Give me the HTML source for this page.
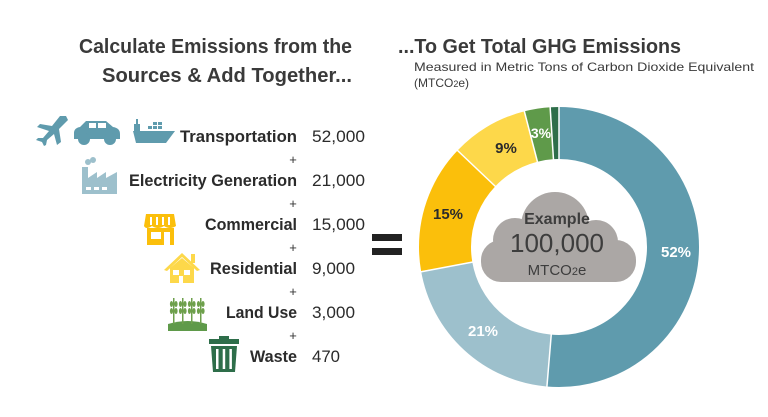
<!DOCTYPE html>
<html><head><meta charset="utf-8"><style>
html,body{margin:0;padding:0;background:#fff}
svg{display:block}
text{font-family:"Liberation Sans",sans-serif}
</style></head><body>
<svg width="768" height="417" viewBox="0 0 768 417" xmlns="http://www.w3.org/2000/svg">
<rect width="768" height="417" fill="#fff"/>
<g fill="#3a3a3a" font-weight="bold" font-size="20">
<text x="79" y="53" textLength="273" lengthAdjust="spacingAndGlyphs">Calculate Emissions from the</text>
<text x="102" y="82" textLength="250" lengthAdjust="spacingAndGlyphs">Sources &amp; Add Together...</text>
<text x="398" y="53" textLength="283" lengthAdjust="spacingAndGlyphs">...To Get Total GHG Emissions</text>
</g>
<g fill="#3a3a3a" font-size="12">
<text x="414" y="71" textLength="340" lengthAdjust="spacingAndGlyphs">Measured in Metric Tons of Carbon Dioxide Equivalent</text>
<text x="414" y="87">(MTCO<tspan font-size="9">2</tspan>e)</text>
</g>
<g fill="#2b2b2b" font-weight="bold" font-size="17" text-anchor="end">
<text x="297" y="142" textLength="117" lengthAdjust="spacingAndGlyphs">Transportation</text>
<text x="297" y="186" textLength="168" lengthAdjust="spacingAndGlyphs">Electricity Generation</text>
<text x="297" y="230" textLength="92" lengthAdjust="spacingAndGlyphs">Commercial</text>
<text x="297" y="274" textLength="87" lengthAdjust="spacingAndGlyphs">Residential</text>
<text x="297" y="318" textLength="71" lengthAdjust="spacingAndGlyphs">Land Use</text>
<text x="297" y="362" textLength="47" lengthAdjust="spacingAndGlyphs">Waste</text>
</g>
<g fill="#2b2b2b" font-size="17">
<text x="312" y="142" textLength="53" lengthAdjust="spacingAndGlyphs">52,000</text>
<text x="312" y="186" textLength="53" lengthAdjust="spacingAndGlyphs">21,000</text>
<text x="312" y="230" textLength="53" lengthAdjust="spacingAndGlyphs">15,000</text>
<text x="312" y="274" textLength="43" lengthAdjust="spacingAndGlyphs">9,000</text>
<text x="312" y="318" textLength="43" lengthAdjust="spacingAndGlyphs">3,000</text>
<text x="312" y="362" textLength="28" lengthAdjust="spacingAndGlyphs">470</text>
</g>
<g fill="#333" font-size="13" text-anchor="middle">
<text x="293" y="164">+</text><text x="293" y="208">+</text><text x="293" y="252">+</text><text x="293" y="296">+</text><text x="293" y="340">+</text>
</g>
<rect x="372" y="234" width="30" height="7" fill="#222"/>
<rect x="372" y="248" width="30" height="7" fill="#222"/>
<g fill="#5f9bad">
<path d="M66 116 L60 116 L52 126 L40 124 L37 127 L49 131 L43 138 L38 138 L36 140 L42 142 L44 146 L46 145 L47 140 L54 134 L57 145 L61 142 L59 129 L68 120 Z"/>
<path d="M74 133 Q74 128 80 127 L86 121 L106 121 L113 127 Q120 128 120 134 L120 139 L74 139 Z"/>
<circle cx="84" cy="139" r="6"/><circle cx="110" cy="139" r="6"/>
<rect x="89" y="123" width="7" height="5" fill="#fff"/><rect x="98" y="123" width="8" height="5" fill="#fff"/>
<rect x="136" y="119" width="2" height="6"/><rect x="134" y="124" width="6" height="7"/>
<rect x="148" y="126" width="4" height="3"/><rect x="153" y="126" width="4" height="3"/><rect x="153" y="122" width="4" height="3"/><rect x="158" y="126" width="4" height="3"/><rect x="158" y="122" width="4" height="3"/>
<path d="M133 131 L175 131 L166 143 L136 143 Z"/>
</g>
<g fill="#9dc0cc">
<path d="M82 167 L88 167 L88 178 L97 172 L97 178 L106 172 L106 178 L117 172 L117 194 L82 194 Z"/>
<circle cx="88" cy="162" r="3"/><circle cx="93" cy="160" r="3"/>
<g fill="#fff"><rect x="86" y="187" width="5" height="3"/><rect x="94" y="187" width="5" height="3"/><rect x="102" y="187" width="5" height="3"/></g>
</g>
<g fill="#fbbf0b">
<path d="M146 214 L174 214 L176 226 Q170 230 164 226 Q158 230 152 226 Q146 230 144 226 Z"/>
<rect x="147" y="228" width="27" height="17"/>
<rect x="151" y="232" width="10" height="7" fill="#fff"/>
<rect x="164" y="232" width="6" height="13" fill="#fff"/>
<g fill="#fff"><rect x="150" y="217" width="2" height="8"/><rect x="156" y="217" width="2" height="8"/><rect x="162" y="217" width="2" height="8"/><rect x="168" y="217" width="2" height="8"/></g>
</g>
<g fill="#fdd84a">
<path d="M164 270 L182 253 L200 270 L197 271 L182 257 L167 271 Z"/>
<rect x="191" y="254" width="4" height="9"/>
<path d="M170 268 L182 258 L194 268 L194 283 L170 283 Z"/>
<rect x="173" y="270" width="6" height="5" fill="#fff"/><rect x="184" y="270" width="6" height="5" fill="#fff"/><rect x="179" y="276" width="4" height="7" fill="#fff"/>
</g>
<g fill="#6ea04c">
<path d="M168 324 Q188 318 207 324 L207 331 L168 331 Z" fill="#5f9a4a"/>
<g><rect x="173" y="298" width="1.5" height="26"/><ellipse cx="171.5" cy="304" rx="1.6" ry="3"/><ellipse cx="176" cy="304" rx="1.6" ry="3"/><ellipse cx="171.5" cy="311" rx="1.6" ry="3"/><ellipse cx="176" cy="311" rx="1.6" ry="3"/></g>
<g><rect x="182" y="298" width="1.5" height="26"/><ellipse cx="180.5" cy="304" rx="1.6" ry="3"/><ellipse cx="185" cy="304" rx="1.6" ry="3"/><ellipse cx="180.5" cy="311" rx="1.6" ry="3"/><ellipse cx="185" cy="311" rx="1.6" ry="3"/></g>
<g><rect x="191" y="298" width="1.5" height="26"/><ellipse cx="189.5" cy="304" rx="1.6" ry="3"/><ellipse cx="194" cy="304" rx="1.6" ry="3"/><ellipse cx="189.5" cy="311" rx="1.6" ry="3"/><ellipse cx="194" cy="311" rx="1.6" ry="3"/></g>
<g><rect x="200" y="298" width="1.5" height="26"/><ellipse cx="198.5" cy="304" rx="1.6" ry="3"/><ellipse cx="203" cy="304" rx="1.6" ry="3"/><ellipse cx="198.5" cy="311" rx="1.6" ry="3"/><ellipse cx="203" cy="311" rx="1.6" ry="3"/></g>
</g>
<g fill="#2e6e4a">
<rect x="219" y="336" width="10" height="3"/>
<rect x="209" y="339" width="30" height="5"/>
<path d="M211 346 L237 346 L235 372 L213 372 Z"/>
<g fill="#fff"><rect x="216" y="349" width="2.5" height="20"/><rect x="222.7" y="349" width="2.5" height="20"/><rect x="229.4" y="349" width="2.5" height="20"/></g>
</g>
<g transform="rotate(-90 559 247)" fill="none" stroke-width="52">
<circle cx="559" cy="247" r="114" stroke="#5f9bad" stroke-dasharray="368.2 716.3" stroke-dashoffset="0"/>
<circle cx="559" cy="247" r="114" stroke="#9dc0cc" stroke-dasharray="149 716.3" stroke-dashoffset="-368.2"/>
<circle cx="559" cy="247" r="114" stroke="#fbbf0b" stroke-dasharray="106.7 716.3" stroke-dashoffset="-517.2"/>
<circle cx="559" cy="247" r="114" stroke="#fdd84a" stroke-dasharray="63.8 716.3" stroke-dashoffset="-623.9"/>
<circle cx="559" cy="247" r="114" stroke="#5f9a4a" stroke-dasharray="21.5 716.3" stroke-dashoffset="-687.7"/>
<circle cx="559" cy="247" r="114" stroke="#2e6e4a" stroke-dasharray="7.1 716.3" stroke-dashoffset="-709.2"/>
</g>
<g stroke="#fff" stroke-width="1.5">
<line x1="559" y1="105" x2="559" y2="161"/>
<line x1="546.8" y1="388" x2="551.3" y2="334"/>
<line x1="420" y1="272" x2="473" y2="262"/>
<line x1="457" y1="150" x2="496" y2="187"/>
<line x1="524" y1="110" x2="537.5" y2="162"/>
<line x1="550" y1="105" x2="553.5" y2="160"/>
</g>
<g font-weight="bold" font-size="15" text-anchor="middle">
<text x="676" y="257" fill="#fff">52%</text>
<text x="483" y="336" fill="#fff">21%</text>
<text x="448" y="219" fill="#2b2b2b">15%</text>
<text x="506" y="153" fill="#2b2b2b">9%</text>
<text x="541" y="138" fill="#fff" font-size="14">3%</text>
</g>
<g fill="#aba7a5">
<circle cx="555" cy="226" r="34"/>
<circle cx="515" cy="240" r="22"/>
<circle cx="596" cy="242" r="22"/>
<rect x="481" y="240" width="155" height="42" rx="20"/>
</g>
<g fill="#3d3d3d" text-anchor="middle">
<text x="557" y="224" font-weight="bold" font-size="16">Example</text>
<text x="557" y="252" font-size="26">100,000</text>
<text x="557" y="275" font-size="15">MTCO<tspan font-size="11">2</tspan>e</text>
</g>
</svg>
</body></html>
